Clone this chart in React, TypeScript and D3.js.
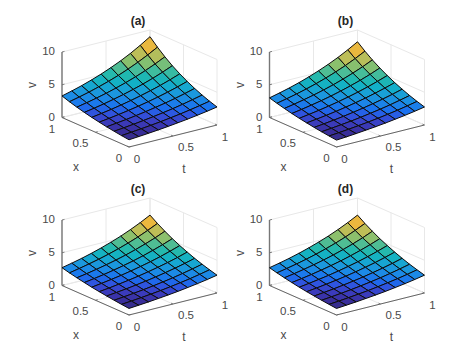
import React from "react";
import * as d3 from "d3";

const titles = ["(a)", "(b)", "(c)", "(d)"];
const xTicks = [0, 0.5, 1];
const tTicks = [0, 0.5, 1];
const vTicks = [0, 5, 10];

// rows: x from 0 to 1, columns: t from 0 to 1
const surfaceA = [
  [1.10, 1.22, 1.35, 1.49, 1.65, 1.83, 2.02, 2.24, 2.48, 2.75],
  [1.24, 1.38, 1.53, 1.69, 1.87, 2.08, 2.30, 2.55, 2.83, 3.13],
  [1.40, 1.56, 1.73, 1.92, 2.13, 2.36, 2.61, 2.90, 3.22, 3.57],
  [1.58, 1.76, 1.95, 2.17, 2.41, 2.68, 2.97, 3.30, 3.67, 4.08],
  [1.79, 1.99, 2.21, 2.46, 2.73, 3.04, 3.38, 3.76, 4.18, 4.65],
  [2.02, 2.25, 2.50, 2.79, 3.10, 3.46, 3.85, 4.28, 4.77, 5.31],
  [2.28, 2.54, 2.83, 3.16, 3.52, 3.92, 4.37, 4.87, 5.43, 6.05],
  [2.58, 2.88, 3.21, 3.58, 4.00, 4.46, 4.97, 5.55, 6.19, 6.91],
  [2.91, 3.25, 3.63, 4.06, 4.53, 5.06, 5.66, 6.32, 7.06, 7.88],
  [3.29, 3.68, 4.11, 4.60, 5.14, 5.75, 6.42, 7.18, 8.04, 8.98],
];
const surfaceB = [
  [1.05, 1.17, 1.30, 1.45, 1.61, 1.79, 2.00, 2.22, 2.47, 2.75],
  [1.18, 1.31, 1.46, 1.63, 1.81, 2.02, 2.25, 2.50, 2.79, 3.10],
  [1.33, 1.48, 1.65, 1.83, 2.04, 2.28, 2.53, 2.82, 3.15, 3.50],
  [1.49, 1.66, 1.85, 2.06, 2.30, 2.57, 2.86, 3.19, 3.55, 3.96],
  [1.68, 1.87, 2.08, 2.32, 2.59, 2.89, 3.22, 3.60, 4.01, 4.47],
  [1.88, 2.10, 2.34, 2.62, 2.92, 3.26, 3.64, 4.06, 4.53, 5.05],
  [2.11, 2.36, 2.64, 2.94, 3.28, 3.67, 4.10, 4.57, 5.10, 5.70],
  [2.38, 2.66, 2.97, 3.31, 3.70, 4.13, 4.62, 5.16, 5.76, 6.43],
  [2.67, 2.99, 3.34, 3.73, 4.17, 4.66, 5.21, 5.82, 6.51, 7.27],
  [3.00, 3.36, 3.75, 4.19, 4.69, 5.25, 5.87, 6.56, 7.34, 8.20],
];
const surfaceC = [
  [1.00, 1.12, 1.25, 1.40, 1.56, 1.74, 1.95, 2.18, 2.43, 2.72],
  [1.12, 1.25, 1.40, 1.56, 1.74, 1.95, 2.18, 2.43, 2.72, 3.04],
  [1.25, 1.40, 1.56, 1.74, 1.95, 2.18, 2.43, 2.72, 3.04, 3.39],
  [1.40, 1.56, 1.74, 1.95, 2.18, 2.43, 2.72, 3.04, 3.39, 3.79],
  [1.56, 1.74, 1.95, 2.18, 2.43, 2.72, 3.04, 3.39, 3.79, 4.24],
  [1.74, 1.95, 2.18, 2.43, 2.72, 3.04, 3.39, 3.79, 4.24, 4.74],
  [1.95, 2.18, 2.43, 2.72, 3.04, 3.39, 3.79, 4.24, 4.74, 5.29],
  [2.18, 2.43, 2.72, 3.04, 3.39, 3.79, 4.24, 4.74, 5.29, 5.92],
  [2.43, 2.72, 3.04, 3.39, 3.79, 4.24, 4.74, 5.29, 5.92, 6.61],
  [2.72, 3.04, 3.39, 3.79, 4.24, 4.74, 5.29, 5.92, 6.61, 7.39],
];
const surfaces = [surfaceA, surfaceB, surfaceC, surfaceC];

const colourPositions = [0, 0.05, 0.1, 0.15, 0.2, 0.27, 0.35, 0.42, 0.5, 0.58, 0.66, 0.77, 0.88, 1];
const colourStops = ["#352c85", "#3a2fa0", "#3b3fc4", "#2f55e0", "#1a70f0", "#1c8ae6", "#1aa0d8", "#12b0c8", "#20b8b0", "#4abd98", "#84c070", "#bdbe58", "#ebb83e", "#fad030"];

const FONT = "'Liberation Sans', Arial, sans-serif";
const TEXT = "#4a4a4a";

// Screen offset contributed by each data axis
const xToX = d3.scaleLinear().domain([0, 1]).range([0, -67]);
const xToY = d3.scaleLinear().domain([0, 1]).range([0, -29.5]);
const tToX = d3.scaleLinear().domain([0, 1]).range([0, 88]);
const tToY = d3.scaleLinear().domain([0, 1]).range([0, -22]);
const vToY = d3.scaleLinear().domain([0, 10]).range([0, -65.5]);

const ORIGIN_X = 129;
const ORIGIN_Y = 147;

type P = [number, number];
const project = (x: number, t: number, v: number): P => [
  ORIGIN_X + xToX(x) + tToX(t),
  ORIGIN_Y + xToY(x) + tToY(t) + vToY(v),
];
const pathOf = d3.line<P>();
const seg = (a: P, b: P) => pathOf([a, b]) as string;

function Panel({ title, z, dx, dy }: { title: string; z: number[][]; dx: number; dy: number }) {
  const n = z.length;
  const grid = d3.scaleLinear().domain([0, n - 1]).range([0, 1]);
  const [lo, hi] = d3.extent(z.flat()) as [number, number];
  const colour = d3
    .scaleLinear<string>()
    .domain(colourPositions.map((p) => lo + (hi - lo) * p))
    .range(colourStops)
    .interpolate(d3.interpolateRgb);

  const quads: { d: string; fill: string; key: string }[] = [];
  for (let i = n - 2; i >= 0; i--) {
    for (let j = n - 2; j >= 0; j--) {
      const c: P[] = [
        project(grid(i), grid(j), z[i][j]),
        project(grid(i + 1), grid(j), z[i + 1][j]),
        project(grid(i + 1), grid(j + 1), z[i + 1][j + 1]),
        project(grid(i), grid(j + 1), z[i][j + 1]),
      ];
      const mean = (z[i][j] + z[i + 1][j] + z[i][j + 1] + z[i + 1][j + 1]) / 4;
      quads.push({ d: (pathOf(c) as string) + "Z", fill: colour(mean), key: `${i}-${j}` });
    }
  }

  const GRID = "#e8e8e8";
  const AXIS = "#666666";
  const lines: string[] = [];
  vTicks.forEach((v) => {
    lines.push(seg(project(1, 0, v), project(1, 1, v)));
    lines.push(seg(project(1, 1, v), project(0, 1, v)));
  });
  tTicks.forEach((t) => {
    lines.push(seg(project(1, t, 0), project(1, t, 10)));
    lines.push(seg(project(1, t, 0), project(0, t, 0)));
  });
  xTicks.forEach((x) => {
    lines.push(seg(project(x, 1, 0), project(x, 1, 10)));
    lines.push(seg(project(x, 0, 0), project(x, 1, 0)));
  });

  const label = (s: string, x: number, y: number, anchor = "middle", size = 11.5) => (
    <text key={s + x + y} x={x} y={y} textAnchor={anchor} dominantBaseline="central" fontSize={size} fill={TEXT} fontFamily={FONT}>
      {s}
    </text>
  );

  return (
    <g transform={`translate(${dx},${dy})`}>
      {lines.map((d, i) => (
        <path key={i} d={d} stroke={GRID} strokeWidth={1} fill="none" />
      ))}
      <path d={seg(project(1, 0, 0), project(0, 0, 0))} stroke={AXIS} strokeWidth={1} fill="none" />
      <path d={seg(project(0, 0, 0), project(0, 1, 0))} stroke={AXIS} strokeWidth={1} fill="none" />
      <path d={seg(project(1, 0, 0), project(1, 0, 10))} stroke="#777777" strokeWidth={1.4} fill="none" />
      {vTicks.map((v) => {
        const p = project(1, 0, v);
        return <path key={v} d={seg(p, [p[0] + 2.5, p[1] - 0.6])} stroke={AXIS} strokeWidth={0.8} />;
      })}
      {xTicks.map((x) => {
        const p = project(x, 0, 0);
        return <path key={x} d={seg(p, [p[0] + 2.2, p[1] - 0.6])} stroke={AXIS} strokeWidth={0.8} />;
      })}
      {tTicks.map((t) => {
        const p = project(0, t, 0);
        return <path key={t} d={seg(p, [p[0] - 2, p[1] - 0.9])} stroke={AXIS} strokeWidth={0.8} />;
      })}
      {quads.map((q) => (
        <path key={q.key} d={q.d} fill={q.fill} stroke="#0d0d0d" strokeWidth={1} strokeLinejoin="round" />
      ))}
      {vTicks.map((v) => label(String(v), 55, project(1, 0, v)[1] - 1, "end"))}
      {xTicks.map((x) => {
        const p = project(x, 0, 0);
        return label(String(x), p[0] - 11 + (x === 0.5 ? -4 : 1), p[1] + 11);
      })}
      {tTicks.map((t) => {
        const p = project(0, t, 0);
        return label(String(t), p[0] + 8 + (t === 0.5 ? 5 : 0), p[1] + 12 - (t === 0.5 ? 1 : 0));
      })}
      {label("x", 76, 167, "middle", 12)}
      {label("t", 184, 169, "middle", 12)}
      <text x={32} y={85} transform="rotate(-90 32 85)" textAnchor="middle" dominantBaseline="central" fontSize={12} fill={TEXT} fontFamily={FONT}>
        v
      </text>
      <text x={138} y={21} textAnchor="middle" dominantBaseline="central" fontSize={12} fontWeight="bold" fill="#262626" fontFamily={FONT}>
        {title}
      </text>
    </g>
  );
}

export default function App() {
  return (
    <svg width={474} height={355} style={{ position: "absolute", left: 0, top: 0, display: "block", background: "#fff" }}>
      {titles.map((t, i) => (
        <Panel key={t} title={t} z={surfaces[i]} dx={i % 2 ? 207.5 : 0} dy={i >= 2 ? 168 : 0} />
      ))}
    </svg>
  );
}
